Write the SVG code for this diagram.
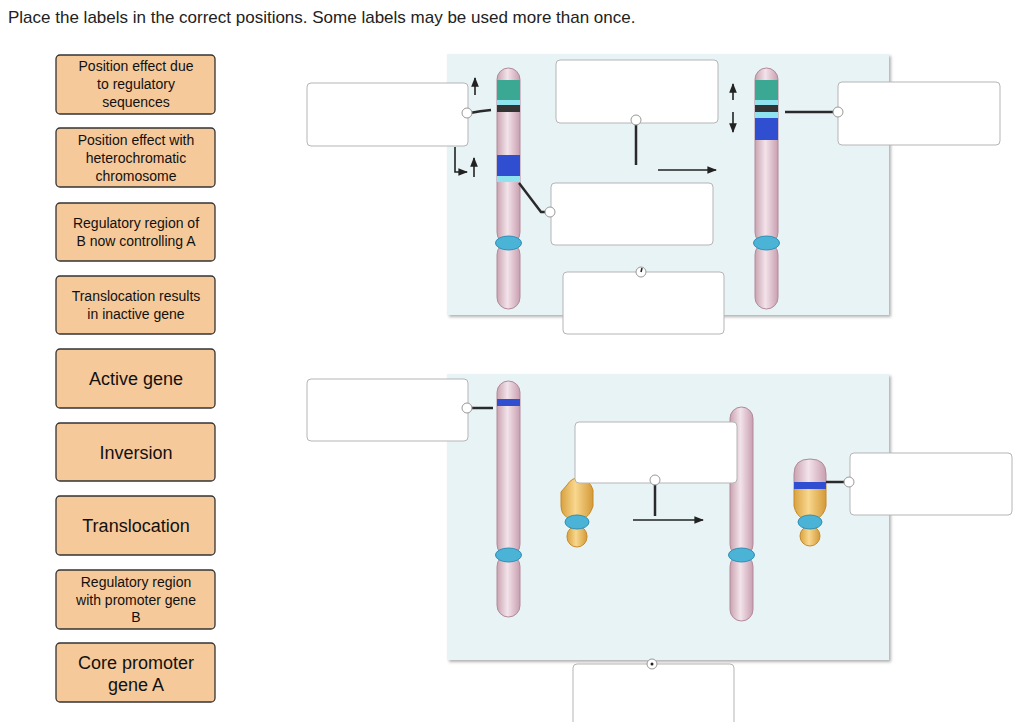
<svg xmlns="http://www.w3.org/2000/svg" width="1024" height="722" viewBox="0 0 1024 722">
<defs>
<linearGradient id="pk" x1="0" x2="1"><stop offset="0" stop-color="#c9a3b0"/><stop offset="0.45" stop-color="#f3e3ea"/><stop offset="1" stop-color="#c99fb0"/></linearGradient>
<linearGradient id="or" x1="0" x2="1"><stop offset="0" stop-color="#d9a240"/><stop offset="0.45" stop-color="#f8d78e"/><stop offset="1" stop-color="#d49a38"/></linearGradient>
<marker id="ah" viewBox="0 0 10 10" refX="9" refY="5" markerWidth="6" markerHeight="6" orient="auto"><path d="M0,1 L10,5 L0,9 z" fill="#222"/></marker>
<filter id="sh"><feDropShadow dx="2" dy="2" stdDeviation="1.5" flood-opacity="0.3"/></filter>
</defs>
<style>
.lbl{fill:#f6c99a;stroke:#333;stroke-width:1.3}
.t{font-family:"Liberation Sans",Arial,sans-serif;fill:#111;text-anchor:middle}
.s{font-size:14px}.b{font-size:18px}
.box{fill:#fff;stroke:#b5b5b5;stroke-width:1}
.dot{fill:#fff;stroke:#999;stroke-width:1}
.ln{stroke:#2a2a2a;stroke-width:2.5;fill:none}
.ar{stroke:#222;stroke-width:1.6;fill:none;marker-end:url(#ah)}
.chr{fill:url(#pk);stroke:#b28a9a;stroke-width:1}
.orc{fill:url(#or);stroke:#c58a2a;stroke-width:1}
.cen{fill:#4bb3d6;stroke:#2f8fb5;stroke-width:1}
</style>
<rect width="1024" height="722" fill="#fff"/>
<text x="8" y="23" font-family="Liberation Sans,Arial,sans-serif" font-size="17" fill="#222">Place the labels in the correct positions.  Some labels may be used more than once.</text>

<g id="labels">
<g id="l1"><rect class="lbl" x="56" y="55" width="159" height="59" rx="4"/><text class="t s" x="136" y="71">Position effect due</text><text class="t s" x="136" y="89">to regulatory</text><text class="t s" x="136" y="107">sequences</text></g>
<g id="l2"><rect class="lbl" x="56" y="128" width="159" height="59" rx="4"/><text class="t s" x="136" y="145">Position effect with</text><text class="t s" x="136" y="163">heterochromatic</text><text class="t s" x="136" y="181">chromosome</text></g>
<g id="l3"><rect class="lbl" x="56" y="203" width="159" height="58" rx="4"/><text class="t s" x="136" y="228">Regulatory region of</text><text class="t s" x="136" y="246">B now controlling A</text></g>
<g id="l4"><rect class="lbl" x="56" y="276" width="159" height="58" rx="4"/><text class="t s" x="136" y="301">Translocation results</text><text class="t s" x="136" y="319">in inactive gene</text></g>
<g id="l5"><rect class="lbl" x="56" y="349" width="159" height="59" rx="4"/><text class="t b" x="136" y="385">Active gene</text></g>
<g id="l6"><rect class="lbl" x="56" y="423" width="159" height="58" rx="4"/><text class="t b" x="136" y="459">Inversion</text></g>
<g id="l7"><rect class="lbl" x="56" y="496" width="159" height="59" rx="4"/><text class="t b" x="136" y="532">Translocation</text></g>
<g id="l8"><rect class="lbl" x="56" y="570" width="159" height="59" rx="4"/><text class="t s" x="136" y="587">Regulatory region</text><text class="t s" x="136" y="605">with promoter gene</text><text class="t s" x="136" y="622">B</text></g>
<g id="l9"><rect class="lbl" x="56" y="643" width="159" height="59" rx="4"/><text class="t b" x="136" y="669">Core promoter</text><text class="t b" x="136" y="691">gene A</text></g>
</g>

<g id="panels">
<rect x="447" y="54" width="442" height="261" fill="#e8f3f6" filter="url(#sh)"/>
<rect x="447" y="374" width="442" height="286" fill="#e8f3f6" filter="url(#sh)"/>
</g>

<g id="chromosomes">
<g id="c1">
<rect class="chr" x="497" y="68" width="23" height="176" rx="11.5"/>
<rect class="chr" x="497" y="243" width="23" height="66" rx="11.5"/>
<rect x="497" y="80" width="23" height="20" fill="#3aa893"/>
<rect x="497" y="100" width="23" height="5" fill="#8fe3ee"/>
<rect x="497" y="105" width="23" height="7" fill="#333"/>
<rect x="497" y="155" width="23" height="21" fill="#2f4fd0"/>
<rect x="497" y="176" width="23" height="6" fill="#8fe3ee"/>
<ellipse class="cen" cx="508.5" cy="243" rx="13" ry="7"/>
</g>
<g id="c2">
<rect class="chr" x="755" y="68" width="23" height="176" rx="11.5"/>
<rect class="chr" x="755" y="243" width="23" height="66" rx="11.5"/>
<rect x="755" y="80" width="23" height="20" fill="#3aa893"/>
<rect x="755" y="100" width="23" height="5" fill="#8fe3ee"/>
<rect x="755" y="105" width="23" height="7" fill="#333"/>
<rect x="755" y="112" width="23" height="6" fill="#8fe3ee"/>
<rect x="755" y="118" width="23" height="22" fill="#2f4fd0"/>
<ellipse class="cen" cx="766.5" cy="243" rx="13" ry="7"/>
</g>
<g id="c3">
<rect class="chr" x="497" y="381" width="23" height="175" rx="11.5"/>
<rect class="chr" x="497" y="555" width="23" height="62" rx="11.5"/>
<rect x="497" y="399" width="23" height="7" fill="#2f4fd0"/>
<ellipse class="cen" cx="508.5" cy="555" rx="13" ry="7"/>
</g>
<g id="c4">
<path class="orc" d="M567,485 Q572,477 580,478 Q590,480 593,490 L593,506 Q590,516 583,519 L571,519 Q561,516 561,506 L561,492 Z"/>
<rect class="orc" x="567" y="526" width="20" height="21" rx="10"/>
<ellipse class="cen" cx="577" cy="522" rx="12" ry="7"/>
</g>
<g id="c5">
<rect class="chr" x="730" y="407" width="23" height="149" rx="11.5"/>
<rect class="chr" x="730" y="555" width="23" height="66" rx="11.5"/>
<ellipse class="cen" cx="741.5" cy="555" rx="13" ry="7"/>
</g>
<g id="c6">
<path class="orc" d="M794,486 L826,486 L826,506 Q824,516 816,519 L804,519 Q796,516 794,506 Z"/>
<path class="chr" d="M794,486 L794,474 Q794,459 810,459 Q826,459 826,474 L826,486 Z"/>
<rect x="794" y="482" width="32" height="7" fill="#2f4fd0"/>
<rect class="orc" x="800" y="526" width="20" height="20" rx="10"/>
<ellipse class="cen" cx="810" cy="522" rx="12" ry="7"/>
</g>
</g>

<g id="connectors">
<path class="ln" d="M470,113 Q480,111 491,110"/>
<path class="ln" d="M636,120 L636,165"/>
<path class="ln" d="M550,212 L541,212 L519,183"/>
<path class="ln" d="M838,112 L785,112"/>
<path class="ln" d="M469,408 L493,408"/>
<path class="ln" d="M655,482 L655,516"/>
<path class="ln" d="M849,482 L826,482"/>
<path class="ar" d="M658,170 L716,170"/>
<path class="ar" d="M633,520 L703,520"/>
<path class="ar" d="M475,95 L475,78"/>
<path class="ar" d="M455,147 L455,172 L467,172"/>
<path class="ar" d="M474,177 L474,158"/>
<path class="ar" d="M733,100 L733,84"/>
<path class="ar" d="M733,112 L733,132"/>
</g>

<g id="boxes">
<g id="b1"><rect class="box" x="307" y="83" width="161" height="63" rx="4"/><circle class="dot" cx="467" cy="113" r="5"/></g>
<g id="b2"><rect class="box" x="556" y="60" width="162" height="63" rx="4"/><circle class="dot" cx="636" cy="120" r="5"/></g>
<g id="b3"><rect class="box" x="551" y="183" width="162" height="62" rx="4"/><circle class="dot" cx="550" cy="212" r="5"/></g>
<g id="b4"><rect class="box" x="563" y="272" width="161" height="62" rx="4"/><circle class="dot" cx="641" cy="272" r="5"/><path d="M641,272 L642,268" stroke="#222" stroke-width="1.5"/></g>
<g id="b5"><rect class="box" x="838" y="82" width="162" height="63" rx="4"/><circle class="dot" cx="838" cy="112" r="5"/></g>
<g id="b6"><rect class="box" x="307" y="379" width="161" height="62" rx="4"/><circle class="dot" cx="467" cy="408" r="5"/></g>
<g id="b7"><rect class="box" x="575" y="422" width="162" height="61" rx="4"/><circle class="dot" cx="655" cy="480" r="5"/></g>
<g id="b8"><rect class="box" x="850" y="453" width="162" height="62" rx="4"/><circle class="dot" cx="849" cy="482" r="5"/></g>
<g id="b9"><rect class="box" x="573" y="664" width="161" height="62" rx="4"/><circle class="dot" cx="652" cy="664" r="5"/><circle cx="652" cy="664" r="1.5" fill="#222"/></g>
</g>
</svg>
